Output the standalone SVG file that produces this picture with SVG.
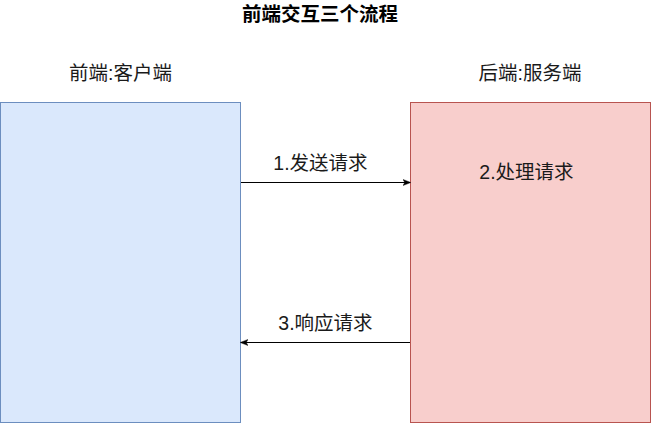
<svg xmlns="http://www.w3.org/2000/svg" width="651" height="423" viewBox="0 0 651 423">
  <style>
    text { font-family: "Liberation Sans", "Noto Sans CJK SC", sans-serif; fill: #1a1a1a; }
    .title { font-size: 19.5px; font-weight: bold; fill: #000; }
    .lbl { font-size: 19.5px; }
    .conn { stroke: #000; stroke-width: 1; fill: none; }
  </style>
  <defs>
    <marker id="arrow" viewBox="0 0 10 10" refX="9" refY="5" markerWidth="8" markerHeight="8" markerUnits="userSpaceOnUse" orient="auto">
      <path d="M0,1 L10,5 L0,9 L2.5,5 Z" fill="#000" stroke="#000" stroke-width="0.5"/>
    </marker>
  </defs>
  <rect width="651" height="423" fill="#fff"/>
  <g id="title">
    <text class="title" x="320" y="21" text-anchor="middle">前端交互三个流程</text>
  </g>
  <g id="client">
    <text class="lbl" x="120.5" y="80" text-anchor="middle">前端:客户端</text>
    <rect x="0.5" y="102.5" width="240" height="320" fill="#dae8fc" stroke="#6c8ebf"/>
  </g>
  <g id="server">
    <text class="lbl" x="530" y="80" text-anchor="middle">后端:服务端</text>
    <rect x="410.5" y="102.5" width="240" height="320" fill="#f8cecc" stroke="#b85450"/>
    <text class="lbl" x="526.5" y="179" text-anchor="middle">2.处理请求</text>
  </g>
  <g id="connectors">
    <line class="conn" x1="241" y1="182.5" x2="410" y2="182.5" marker-end="url(#arrow)"/>
    <text class="lbl" x="320.5" y="170" text-anchor="middle">1.发送请求</text>
    <line class="conn" x1="410" y1="342.5" x2="241" y2="342.5" marker-end="url(#arrow)"/>
    <text class="lbl" x="325.5" y="330" text-anchor="middle">3.响应请求</text>
  </g>
</svg>
